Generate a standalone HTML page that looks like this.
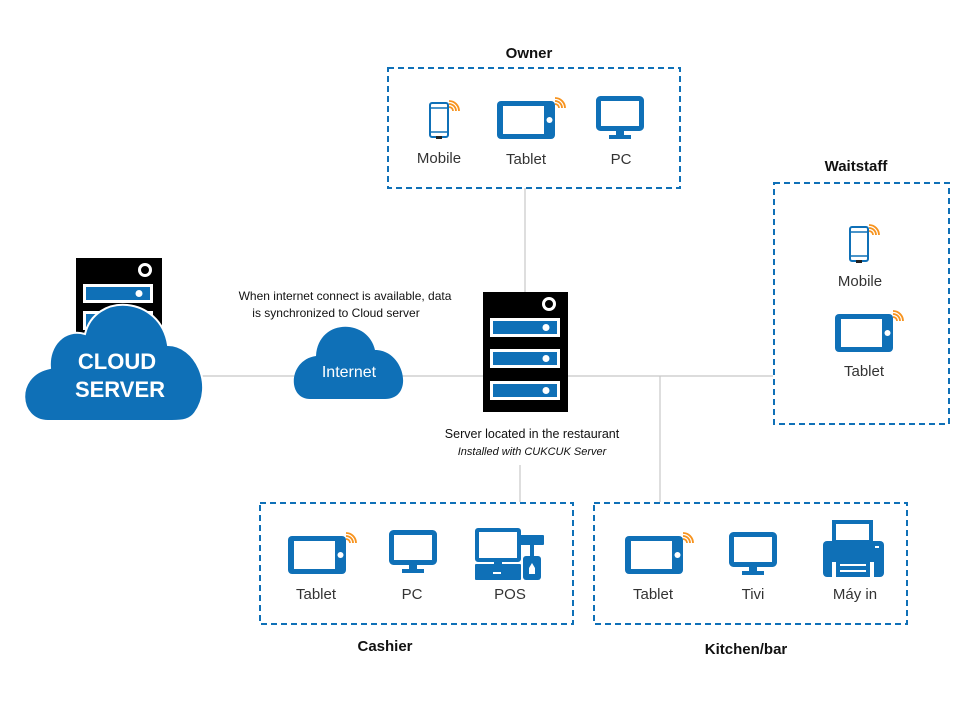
<!DOCTYPE html>
<html><head><meta charset="utf-8"><style>
html,body{margin:0;padding:0;background:#fff;}
svg{display:block;}
text{font-family:"Liberation Sans",sans-serif;}
</style></head><body>
<svg width="972" height="702" viewBox="0 0 972 702" xmlns="http://www.w3.org/2000/svg">
<defs>
  <g id="wifi" fill="none" stroke="#f7931e" stroke-width="1.8">
    <path d="M0,4 a4,4 0 0 1 4,4"/><path d="M0,1 a7,7 0 0 1 7,7"/><path d="M0,-2 a10,10 0 0 1 10,10"/>
  </g>
  <g id="tablet">
    <rect x="0" y="0" width="58" height="38" rx="4" fill="#0f70b7"/>
    <rect x="6" y="5" width="41" height="28" fill="#fff"/>
    <circle cx="52.5" cy="19" r="3" fill="#fff"/>
    <use href="#wifi" x="58" y="-1"/>
  </g>
  <g id="mobile">
    <rect x="1" y="1" width="18" height="34" rx="2" fill="#fff" stroke="#0f70b7" stroke-width="2"/>
    <line x1="1" y1="6" x2="19" y2="6" stroke="#0f70b7" stroke-width="1.5"/>
    <line x1="1" y1="30" x2="19" y2="30" stroke="#0f70b7" stroke-width="1.5"/>
    <rect x="7" y="34" width="6" height="3" fill="#222"/>
    <use href="#wifi" x="20" y="1"/>
  </g>
  <g id="pc">
    <rect x="2.5" y="2.5" width="43" height="30" rx="2" fill="#fff" stroke="#0f70b7" stroke-width="5"/>
    <rect x="20" y="35" width="8" height="5" fill="#0f70b7"/>
    <rect x="13" y="39" width="22" height="4" fill="#0f70b7"/>
  </g>
  <g id="srv">
    <rect x="7" y="0" width="70" height="19" fill="#fff"/>
    <rect x="10" y="3" width="64" height="13" fill="#0f70b7"/>
    <circle cx="63" cy="9.5" r="3.5" fill="#fff"/>
  </g>
</defs>

<g stroke="#c8c8c8" stroke-width="1.2" fill="none">
  <line x1="200" y1="376" x2="773" y2="376"/>
  <line x1="525" y1="188" x2="525" y2="292"/>
  <line x1="520" y1="465" x2="520" y2="502"/>
  <line x1="660" y1="376" x2="660" y2="502"/>
</g>

<g fill="none" stroke="#0f70b7" stroke-width="2" stroke-dasharray="6,4">
  <rect x="388" y="68" width="292" height="120"/>
  <rect x="774" y="183" width="175" height="241"/>
  <rect x="260" y="503" width="313" height="121"/>
  <rect x="594" y="503" width="313" height="121"/>
</g>

<g font-weight="bold" font-size="15" fill="#111" text-anchor="middle">
  <text x="529" y="58">Owner</text>
  <text x="856" y="171">Waitstaff</text>
  <text x="385" y="651">Cashier</text>
  <text x="746" y="654">Kitchen/bar</text>
</g>

<use href="#mobile" x="429" y="102"/>
<use href="#tablet" x="497" y="101"/>
<use href="#pc" x="596" y="96"/>
<use href="#mobile" x="849" y="226"/>
<use href="#tablet" x="835" y="314"/>
<use href="#tablet" x="288" y="536"/>
<use href="#pc" x="389" y="530"/>
<g fill="#0f70b7">
  <rect x="477" y="530" width="42" height="30" rx="1" fill="none" stroke="#0f70b7" stroke-width="4"/>
  <rect x="494" y="559" width="8" height="5"/>
  <rect x="475" y="564" width="46" height="16" rx="1"/>
  <rect x="493" y="572" width="8" height="2" fill="#fff"/>
  <rect x="520" y="535" width="24" height="10" rx="1"/>
  <rect x="530" y="544" width="4" height="14"/>
  <rect x="523" y="556" width="18" height="24" rx="3"/>
  <path d="M532,563 l3,5 v6 h-6 v-6z" fill="#fff"/>
</g>
<use href="#tablet" x="625" y="536"/>
<use href="#pc" x="729" y="532"/>
<g fill="#0f70b7">
  <rect x="834" y="522" width="37" height="20" fill="none" stroke="#0f70b7" stroke-width="4"/>
  <rect x="823" y="541" width="61" height="36" rx="4"/>
  <rect x="875" y="546" width="4" height="2" fill="#fff"/>
  <rect x="832" y="562" width="42" height="15" fill="#fff"/>
  <rect x="836" y="562" width="34" height="15"/>
  <rect x="840" y="564" width="26" height="2" fill="#fff"/>
  <rect x="840" y="570" width="26" height="2" fill="#fff"/>
</g>

<g font-size="15" fill="#333" text-anchor="middle">
  <text x="439" y="163">Mobile</text>
  <text x="526" y="164">Tablet</text>
  <text x="621" y="164">PC</text>
  <text x="860" y="286">Mobile</text>
  <text x="864" y="376">Tablet</text>
  <text x="316" y="599">Tablet</text>
  <text x="412" y="599">PC</text>
  <text x="510" y="599">POS</text>
  <text x="653" y="599">Tablet</text>
  <text x="753" y="599">Tivi</text>
  <text x="855" y="599">Máy in</text>
</g>

<rect x="483" y="292" width="85" height="120" fill="#000"/>
<circle cx="549" cy="304" r="5.5" fill="none" stroke="#fff" stroke-width="3"/>
<use href="#srv" x="483" y="318"/>
<use href="#srv" x="483" y="349"/>
<use href="#srv" x="483" y="381"/>
<text x="532" y="438" font-size="12.5" fill="#111" text-anchor="middle">Server located in the restaurant</text>
<text x="532" y="455" font-size="11" font-style="italic" fill="#111" text-anchor="middle">Installed with CUKCUK Server</text>

<rect x="76" y="258" width="86" height="90" fill="#000"/>
<circle cx="145" cy="270" r="5.5" fill="none" stroke="#fff" stroke-width="3"/>
<use href="#srv" x="76" y="284"/>
<use href="#srv" x="76" y="311"/>
<g fill="#0f70b7" stroke="#fff" stroke-width="2">
  <path d="M48,421 C18,421 14,375 50,368 C48,345 65,328 85,334 C95,292 160,295 168,345 C195,345 215,385 195,413 C190,420 183,421 172,421 Z"/>
</g>
<text x="117" y="369" font-size="22" font-weight="bold" fill="#fff" text-anchor="middle">CLOUD</text>
<text x="120" y="397" font-size="22" font-weight="bold" fill="#fff" text-anchor="middle">SERVER</text>

<path d="M310,399 C287,399 288,360 316,356 C318,318 368,318 375,350 C405,350 415,399 385,399 Z" fill="#0f70b7"/>
<text x="349" y="377" font-size="16" fill="#fff" text-anchor="middle">Internet</text>
<text x="345" y="300" font-size="12" fill="#111" text-anchor="middle">When internet connect is available, data</text>
<text x="336" y="317" font-size="12" fill="#111" text-anchor="middle">is synchronized to Cloud server</text>
</svg>
</body></html>
